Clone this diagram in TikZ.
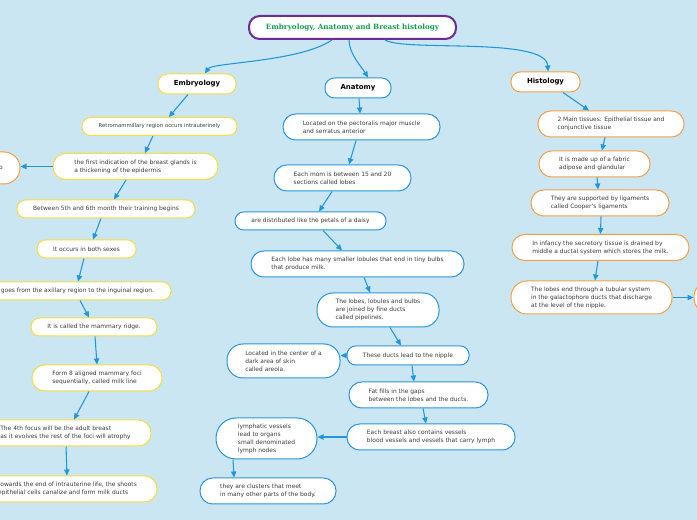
\documentclass[tikz,border=0pt]{standalone}
\usepackage{fontspec}
\setmainfont{DejaVu Sans}
\newfontfamily\titlefont{DejaVu Serif}
\usetikzlibrary{arrows.meta}
\definecolor{bgblue}{HTML}{C9E6F2}
\definecolor{embyellow}{HTML}{FADC3C}
\definecolor{anablue}{HTML}{2B94DA}
\definecolor{historange}{HTML}{F5A046}
\definecolor{titlepurple}{HTML}{6B2B91}
\definecolor{titlegreen}{HTML}{14A050}
\definecolor{arrowblue}{HTML}{2196DB}
\definecolor{txtgray}{HTML}{3C3C3C}

\begin{document}
\begin{tikzpicture}[x=0.75pt,y=-0.75pt]
  \tikzstyle{base}=[draw,fill=white,line width=0.75pt,inner sep=0pt,align=left,text=txtgray,font=\fontsize{4.45}{6}\selectfont]
  \tikzstyle{head}=[text=black,font=\fontsize{5.2}{6}\selectfont\bfseries,minimum height=15pt,rounded corners=7pt]
  \tikzstyle{embbox}=[base,draw=embyellow]
  \tikzstyle{anabox}=[base,draw=anablue]
  \tikzstyle{histbox}=[base,draw=historange]
  \tikzstyle{r1}=[minimum height=13.5pt,rounded corners=6.5pt]
  \tikzstyle{r2}=[minimum height=19.5pt,rounded corners=9.5pt]
  \tikzstyle{r3}=[minimum height=25pt,rounded corners=12pt]
  \tikzstyle{r4}=[minimum height=30.75pt,rounded corners=15pt]
  \tikzstyle{conn}=[draw=arrowblue,line width=0.8pt,-{Triangle[length=4.5pt,width=4pt]}]

  \fill[bgblue] (0,0) rectangle (697,520);
  \useasboundingbox (0,0) rectangle (697,520);

  % main topic
  \node[base,draw=titlepurple,line width=1.5pt,minimum width=155.25pt,minimum height=17.25pt,rounded corners=8pt,text=titlegreen,font=\titlefont\fontsize{5.4}{6}\selectfont\bfseries] (title) at (352.5,27.5) {Embryology, Anatomy and Breast histology};

  \node[embbox,head,minimum width=58.5pt] (emb) at (197,84) {Embryology};
  \node[anabox,head,minimum width=49.5pt] (anat) at (358,88) {Anatomy};
  \node[histbox,head,minimum width=51.75pt] (hist) at (545.5,82) {Histology};

  % embryology
  \node[embbox,r1,minimum width=116.25pt,font=\fontsize{4}{6}\selectfont] (e1) at (159.5,126.5) {Retromammillary region occurs intrauterinely};
  \node[embbox,r2,minimum width=123.75pt] (e2) at (135.5,166.5) {the first indication of the breast glands is\\a thickening of the epidermis};
  \node[histbox,r3,minimum height=24pt,minimum width=28.5pt] (eleft) at (1,168) {o};
  \node[embbox,r1,minimum width=133.5pt] (e3) at (106,209) {Between 5th and 6th month their training begins};
  \node[embbox,r1,minimum width=74.25pt] (e4) at (86.5,249) {It occurs in both sexes};
  \node[embbox,r1,minimum width=140.25pt] (e5) at (77.5,291) {goes from the axillary region to the inguinal region.};
  \node[embbox,r1,minimum width=94.5pt] (e6) at (94,327) {It is called the mammary ridge.};
  \node[embbox,r2,minimum width=97.5pt] (e7) at (97,378) {Form 8 aligned mammary foci\\sequentially, called milk line};
  \node[embbox,r2,minimum width=128.25pt] (e8) at (65.5,433) {The 4th focus will be the adult breast\\as it evolves the rest of the foci will atrophy};
  \node[embbox,r2,minimum width=134.25pt] (e9) at (67.5,489) {towards the end of intrauterine life, the shoots\\epithelial cells canalize and form milk ducts};

  % anatomy
  \node[anabox,r2,minimum width=117.75pt] (a1) at (361.5,127) {Located on the pectoralis major muscle\\and serratus anterior};
  \node[anabox,r2,minimum width=102.75pt] (a2) at (342.5,178) {Each mom is between 15 and 20\\sections called lobes};
  \node[anabox,r1,minimum width=113.25pt] (a3) at (310.5,221) {are distributed like the petals of a daisy};
  \node[anabox,r2,minimum width=159.75pt] (a4) at (357.5,264) {Each lobe has many smaller lobules that end in tiny bulbs\\that produce milk.};
  \node[anabox,r3,minimum height=25.5pt,minimum width=91.5pt] (a5) at (378,310) {The lobes, lobules and bulbs\\are joined by fine ducts\\called pipelines.};
  \node[anabox,r1,minimum height=14.25pt,minimum width=91.5pt] (a6) at (408,355.5) {These ducts lead to the nipple};
  \node[anabox,r3,minimum height=25.5pt,minimum width=84.75pt] (a7) at (283.5,361) {Located in the center of a\\dark area of skin\\called areola.};
  \node[anabox,r2,minimum width=104.25pt] (a8) at (418.5,395) {Fat fills in the gaps\\between the lobes and the ducts.};
  \node[anabox,r2,minimum width=126pt] (a9) at (431,437) {Each breast also contains vessels\\blood vessels and vessels that carry lymph};
  \node[anabox,r4,minimum width=75.75pt] (a10) at (266.5,438.5) {lymphatic vessels\\lead to organs\\small denominated\\lymph nodes};
  \node[anabox,r2,minimum width=102pt] (a11) at (268,491) {they are clusters that meet\\in many other parts of the body.};

  % histology
  \node[histbox,r2,minimum width=109.5pt] (h1) at (611,124) {2 Main tissues: Epithelial tissue and\\conjunctive tissue};
  \node[histbox,r2,minimum width=83.25pt] (h2) at (594.5,164) {It is made up of a fabric\\adipose and glandular};
  \node[histbox,r2,minimum width=103.5pt] (h3) at (600,203) {They are supported by ligaments\\called Cooper's ligaments};
  \node[histbox,r2,minimum width=132.75pt] (h4) at (600.5,247.5) {In infancy the secretory tissue is drained by\\middle a ductal system which stores the milk.};
  \node[histbox,r3,minimum height=24.75pt,minimum width=120.75pt] (h5) at (591.5,297.5) {The lobes end through a tubular system\\in the galactophore ducts that discharge\\at the level of the nipple.};
  \node[histbox,r3,minimum height=24.75pt,minimum width=49.5pt] (hright) at (727,297.5) {};

  % connectors
  \draw[conn] ([xshift=-15.4pt]title.south) .. controls +(-32,22) and +(7,-11) .. ([xshift=6pt]emb.north);
  \draw[conn] ([xshift=-2.6pt]title.south) .. controls +(0,14) and +(-6,-10) .. ([xshift=7.5pt]anat.north);
  \draw[conn] ([xshift=24.4pt]title.south) .. controls +(20,12) and +(-2,-35) .. ([xshift=1.9pt]hist.north);

  \draw[conn] ([xshift=-6.75pt]emb.south) -- ([xshift=7.1pt]e1.north);
  \draw[conn] ([xshift=-4.9pt]e1.south) -- ([xshift=7.1pt]e2.north);
  \draw[conn] (e2.west) -- (e2.west -| eleft.east);
  \draw[conn] ([xshift=-7.1pt]e2.south) -- ([xshift=6pt]e3.north);
  \draw[conn] ([xshift=-3.75pt]e3.south) -- ([xshift=4.9pt]e4.north);
  \draw[conn] ([xshift=-1.9pt]e4.south) -- ([xshift=0.4pt]e5.north);
  \draw[conn] ([xshift=1.9pt]e5.south) -- ([xshift=-3.75pt]e6.north);
  \draw[conn] ([xshift=0.75pt]e6.south) -- (e7.north);
  \draw[conn] ([xshift=-6pt]e7.south) -- ([xshift=6.4pt]e8.north);
  \draw[conn] ([xshift=0.4pt]e8.south) -- ([xshift=-0.4pt]e9.north);

  \draw[conn] ([xshift=0.75pt]anat.south) -- ([xshift=-1.1pt]a1.north);
  \draw[conn] ([xshift=-4.1pt]a1.south) -- ([xshift=4.9pt]a2.north);
  \draw[conn] ([xshift=-7.9pt]a2.south) -- ([xshift=6.4pt]a3.north);
  \draw[conn] ([xshift=9.4pt]a3.south) -- ([xshift=-11.6pt]a4.north);
  \draw[conn] ([xshift=4.9pt]a4.south) -- ([xshift=-6pt]a5.north);
  \draw[conn] ([xshift=9pt]a5.south) -- ([xshift=-5.25pt]a6.north);
  \draw[conn] (a6.west) -- (a6.west -| a7.east);
  \draw[conn] ([xshift=3pt]a6.south) -- ([xshift=-3.4pt]a8.north);
  \draw[conn] ([xshift=3.4pt]a8.south) -- ([xshift=-3.75pt]a9.north);
  \draw[conn] (a9.west) -- (a9.west -| a10.east);
  \draw[conn] ([xshift=-25.1pt]a10.south) -- ([xshift=-25.5pt]a11.north);

  \draw[conn] ([xshift=13.1pt]hist.south) -- ([xshift=-16.5pt]h1.north);
  \draw[conn] ([xshift=-4.5pt]h1.south) -- ([xshift=5.6pt]h2.north);
  \draw[conn] ([xshift=1.9pt]h2.south) -- ([xshift=-1.5pt]h3.north);
  \draw[conn] ([xshift=0.75pt]h3.south) -- (h4.north);
  \draw[conn] ([xshift=-1.9pt]h4.south) -- ([xshift=2.6pt]h5.north);
  \draw[conn] (h5.east) -- (h5.east -| hright.west);
\end{tikzpicture}
\end{document}
